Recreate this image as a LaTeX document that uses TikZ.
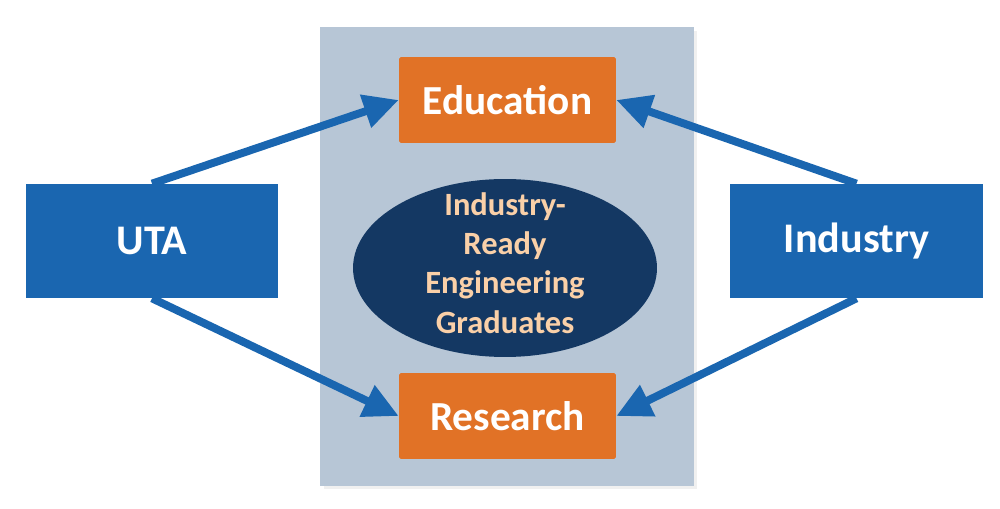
\documentclass[tikz,border=0pt]{standalone}
\usepackage{fontspec}
\setmainfont{Carlito}
\usetikzlibrary{arrows.meta,shapes.geometric,shadows}
\definecolor{panelcolor}{HTML}{B7C6D6}
\definecolor{boxorange}{HTML}{E17226}
\definecolor{boxblue}{HTML}{1A66B0}
\definecolor{goalnavy}{HTML}{143863}
\definecolor{goaltext}{HTML}{FAD0A8}
\newcommand{\arrowwidth}{4.5pt}

\tikzset{
    pillar/.style={fill=boxorange, rounded corners=1pt, minimum width=4.34cm, minimum height=1.72cm,
        inner sep=0pt, text=white, font=\fontsize{23.5}{28}\selectfont\bfseries},
    partner/.style={fill=boxblue, minimum height=2.28cm, inner sep=0pt,
        text=white, font=\fontsize{24}{28}\selectfont\bfseries},
    link/.style={draw=boxblue, line width=\arrowwidth, -{Triangle[length=0.7cm,width=0.66cm]}}
}

\begin{document}
\begin{tikzpicture}[x=0.02cm,y=-0.02cm]
    \useasboundingbox (0,0) rectangle (1000,509);
    %Panel:
    \node[fill=panelcolor, minimum width=7.48cm, minimum height=9.18cm, inner sep=0pt,
        drop shadow={opacity=0.12, shadow xshift=2pt, shadow yshift=-2pt}] (panel) at (507,256.5) {};
    %Pillars:
    \node[pillar] (edu) at (507.5,100) {Education};
    \node[pillar] (res) at (507.5,416) {Research};
    %Goal:
    \node[ellipse, fill=goalnavy, minimum width=6.08cm, minimum height=3.56cm, inner sep=0pt] (goal) at (505,268) {};
    \node[text=goaltext, align=center, font=\fontsize{18.5}{22.3}\selectfont\bfseries] (goaltxt) at (505,263)
        {Industry-\\Ready\\Engineering\\Graduates};
    %Partners:
    \node[partner, minimum width=5.04cm] (uta) at (152,241) {UTA};
    \node[partner, minimum width=5.06cm] (ind) at (856.5,241) {Industry};
    %Links:
    \draw[link] (uta.north) -- (edu.west);
    \draw[link] (uta.south) -- (res.west);
    \draw[link] (ind.north) -- (edu.east);
    \draw[link] (ind.south) -- (res.east);
\end{tikzpicture}
\end{document}
